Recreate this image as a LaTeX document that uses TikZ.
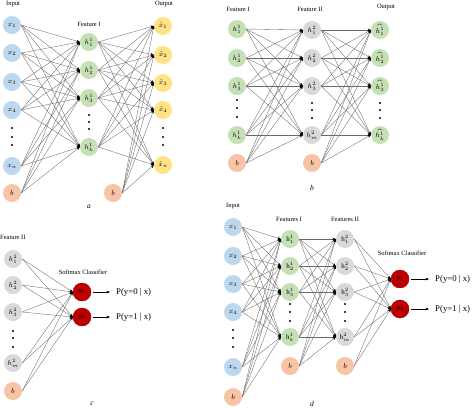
\documentclass[tikz,border=0pt]{standalone}
\usepackage{fontspec}
\setmainfont{Liberation Serif}
\usetikzlibrary{arrows.meta}
\definecolor{cblue}{HTML}{BDD7EE}
\definecolor{cgreen}{HTML}{C5E0B4}
\definecolor{cyellow}{HTML}{FFE285}
\definecolor{corange}{HTML}{F7C4A5}
\definecolor{cgray}{HTML}{D9D9D9}
\definecolor{cred}{HTML}{C00000}
\definecolor{cline}{HTML}{6A6A6A}
\tikzset{
  neuron/.style={circle, minimum size=18bp, inner sep=0pt, font=\fontsize{7}{7}\selectfont},
  inp/.style={neuron, fill=cblue},
  hidg/.style={neuron, fill=cgreen},
  hidgr/.style={neuron, fill=cgray},
  outy/.style={neuron, fill=cyellow},
  bias/.style={neuron, fill=corange},
  soft/.style={neuron, fill=cred, draw=cred!70!black, line width=0.4pt},
  conn/.style={draw=cline, line width=0.35pt, -{Stealth[length=3.2bp,width=2.6bp,color=black]}},
  parr/.style={draw=black, line width=0.4pt, shorten <=1.5bp, shorten >=6bp, -{Stealth[length=3.5bp,width=2.8bp]}},
  lbl/.style={font=\fontsize{6.5}{7}\selectfont, inner sep=0pt},
  plbl/.style={font=\fontsize{7.5}{8}\itshape, inner sep=0pt},
  ptxt/.style={font=\fontsize{8.8}{10}\selectfont, inner sep=0pt, anchor=west},
  ndot/.style={circle, fill=black, inner sep=0pt, minimum size=2.2bp},
}
\begin{document}
\begin{tikzpicture}[x=1bp,y=-1bp]
\useasboundingbox (0,0) rectangle (474,407);
% ---------------- panel a ----------------
\node[lbl] (aLin) at (13,4) {Input};
\node[lbl] (aLf) at (89,24) {Feature I};
\node[lbl] (aLout) at (164,4) {Output};
\node[plbl] (aLa) at (89,207) {a};
\foreach \n/\y/\t in {1/25/x_1,2/53/x_2,3/82/x_3,4/110/x_4,n/166/x_n}
  \node[inp] (ax\n) at (12,\y) {$\t$};
\node[bias] (axb) at (12,193) {$b$};
\foreach \n/\y in {1/128,2/137,3/145} \node[ndot] (adx\n) at (12,\y) {};
\foreach \n/\y/\t in {1/42/h^1_1,2/70/h^1_2,3/98/h^1_3,k/147/h^1_k}
  \node[hidg] (ah\n) at (89,\y) {$\t$};
\foreach \n/\y in {1/115,2/122,3/129} \node[ndot] (adh\n) at (89,\y) {};
\node[bias] (ahb) at (113,193) {$b$};
\foreach \n/\y/\t in {1/26/\hat{x}_1,2/55/\hat{x}_2,3/83/\hat{x}_3,4/110/\hat{x}_4,n/165/\hat{x}_n}
  \node[outy] (ay\n) at (163,\y) {$\t$};
\foreach \n/\y in {1/128,2/137,3/145} \node[ndot] (ady\n) at (163,\y) {};
\foreach \s in {ax1,ax2,ax3,ax4,axn,axb}
  \foreach \t in {ah1,ah2,ah3,ahk} \draw[conn] (\s.east) -- (\t.west);
\foreach \s in {ah1,ah2,ah3,ahk,ahb}
  \foreach \t in {ay1,ay2,ay3,ay4,ayn} \draw[conn] (\s.east) -- (\t.west);
% ---------------- panel b ----------------
\node[lbl] (bLf1) at (238,9) {Feature I};
\node[lbl] (bLf2) at (310,9) {Feature II};
\node[lbl] (bLout) at (386,7) {Output};
\node[plbl] (bLb) at (312,188) {b};
\foreach \n/\y/\t in {1/29/h^1_1,2/58/h^1_2,3/86/h^1_3,k/135/h^1_k}
  \node[hidg] (bf\n) at (237,\y) {$\t$};
\node[bias] (bfb) at (237,163) {$b$};
\foreach \n/\y in {1/100,2/108,3/117} \node[ndot] (bdf\n) at (237,\y) {};
\foreach \n/\y/\t in {1/30/h^2_1,2/58/h^2_2,3/86/h^2_3,m/135/h^2_m}
  \node[hidgr] (bg\n) at (312,\y) {$\t$};
\node[bias] (bgb) at (312,163) {$b$};
\foreach \n/\y in {1/103,2/110,3/118} \node[ndot] (bdg\n) at (312,\y) {};
\foreach \n/\y/\t in {1/30/\widehat{h^1_1},2/58/\widehat{h^1_2},3/86/\widehat{h^1_3},k/135/\widehat{h^1_k}}
  \node[hidg] (bo\n) at (380,\y) {$\t$};
\foreach \n/\y in {1/103,2/110,3/118} \node[ndot] (bdo\n) at (380,\y) {};
\foreach \s in {bf1,bf2,bf3,bfk,bfb}
  \foreach \t in {bg1,bg2,bg3,bgm} \draw[conn] (\s.east) -- (\t.west);
\foreach \s in {bg1,bg2,bg3,bgm,bgb}
  \foreach \t in {bo1,bo2,bo3,bok} \draw[conn] (\s.east) -- (\t.west);
% ---------------- panel c ----------------
\node[lbl, anchor=west] (cLf2) at (0,237) {Feature II};
\node[lbl] (cLs) at (83,272) {Softmax Classifier};
\node[plbl] (cLc) at (92,404) {c};
\foreach \n/\y/\t in {1/259/h^2_1,2/285/h^2_2,3/312/h^2_3,m/363/h^2_m}
  \node[hidgr] (cg\n) at (13,\y) {$\t$};
\node[bias] (cgb) at (13,391) {$b$};
\foreach \n/\y in {1/331,2/338,3/347} \node[ndot] (cdg\n) at (13,\y) {};
\node[soft] (cy1) at (82,292) {$y_1$};
\node[soft] (cy2) at (82,317) {$y_2$};
\foreach \s in {cg1,cg2,cg3,cgm,cgb}
  \foreach \t in {cy1,cy2} \draw[conn] (\s.east) -- (\t.west);
\node[ptxt] (cp1) at (116,292) {P(y=0 | x)};
\node[ptxt] (cp2) at (116,317) {P(y=1 | x)};
\draw[parr] (cy1.east) -- (cp1.west);
\draw[parr] (cy2.east) -- (cp2.west);
% ---------------- panel d ----------------
\node[lbl] (dLin) at (233,206) {Input};
\node[lbl] (dLf1) at (289,219) {Features I};
\node[lbl] (dLf2) at (345,219) {Features II};
\node[lbl] (dLs) at (402,253) {Softmax Classifier};
\node[plbl] (dLd) at (312,404) {d};
\foreach \n/\y/\t in {1/227/x_1,2/256/x_2,3/284/x_3,4/312/x_4,n/367/x_n}
  \node[inp] (dx\n) at (233,\y) {$\t$};
\node[bias] (dxb) at (233,397) {$b$};
\foreach \n/\y in {1/330,2/338,3/347} \node[ndot] (ddx\n) at (233,\y) {};
\foreach \n/\y/\t in {1/239/\mathrm{h}^1_1,2/266/\mathrm{h}^1_2,3/292/\mathrm{h}^1_3,k/337/\mathrm{h}^1_k}
  \node[hidg] (df\n) at (290,\y) {$\t$};
\node[bias] (dfb) at (290,366) {$b$};
\foreach \n/\y in {1/304,2/312,3/321} \node[ndot] (ddf\n) at (290,\y) {};
\foreach \n/\y/\t in {1/239/\mathrm{h}^2_1,2/266/\mathrm{h}^2_2,3/292/\mathrm{h}^2_3,m/337/\mathrm{h}^2_m}
  \node[hidgr] (dg\n) at (345,\y) {$\t$};
\node[bias] (dgb) at (345,366) {$b$};
\foreach \n/\y in {1/304,2/312,3/321} \node[ndot] (ddg\n) at (345,\y) {};
\node[soft] (dy1) at (400,279) {$y_1$};
\node[soft] (dy2) at (400,309) {$y_2$};
\foreach \s in {dx1,dx2,dx3,dx4,dxn,dxb}
  \foreach \t in {df1,df2,df3,dfk} \draw[conn] (\s.east) -- (\t.west);
\foreach \s in {df1,df2,df3,dfk,dfb}
  \foreach \t in {dg1,dg2,dg3,dgm} \draw[conn] (\s.east) -- (\t.west);
\foreach \s in {dg1,dg2,dg3,dgm,dgb}
  \foreach \t in {dy1,dy2} \draw[conn] (\s.east) -- (\t.west);
\node[ptxt] (dp1) at (435,279) {P(y=0 | x)};
\node[ptxt] (dp2) at (435,309) {P(y=1 | x)};
\draw[parr] (dy1.east) -- (dp1.west);
\draw[parr] (dy2.east) -- (dp2.west);
\end{tikzpicture}
\end{document}
